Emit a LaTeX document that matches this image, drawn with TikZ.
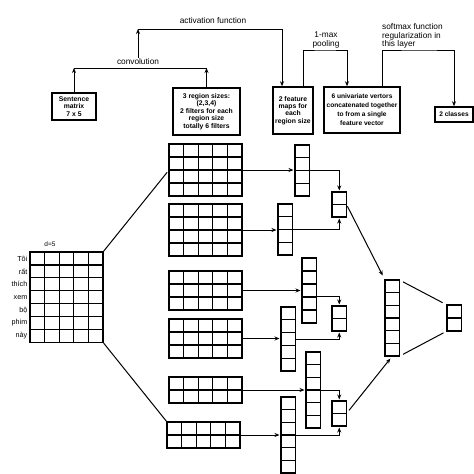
\documentclass[tikz,border=0pt]{standalone}
\usepackage{fontspec}
\setmainfont{Liberation Sans}
\usetikzlibrary{arrows.meta, calc, positioning}
\tikzset{
  hbox/.style={
    rectangle, draw, line width=1.5pt,
    font=\fontsize{6.8}{7.4}\selectfont\bfseries, align=center,
    inner sep=1pt,
  },
  lbl/.style={font=\fontsize{8.3}{9.5}\selectfont, inner sep=0pt},
  word/.style={font=\fontsize{7.2}{8}\selectfont, inner sep=0pt, anchor=east},
  cell/.style={draw, line width=1.35pt},
  grd/.style={draw, line width=1.5pt, inner sep=0pt, outer sep=0pt, anchor=north west},
  arr/.style={-{Stealth[length=5pt,width=4pt]}, line width=1pt, shorten >=1.5pt},
  ln/.style={line width=1pt},
}
% #1 name, #2 top left, #3 cols, #4 rows, #5 cell width, #6 cell height
\newcommand{\cellgrid}[6]{%
  \node[grd, minimum width={#3*#5pt}, minimum height={#4*#6pt}] (#1) at (#2) {};
  \foreach \c in {1,...,#3}{\foreach \r in {1,...,#4}{
    \draw[cell] ($(#1.north west)+({(\c-1)*#5},{(\r-1)*#6})$) rectangle ++(#5,#6);}}
}

\begin{document}
\begin{tikzpicture}[x=1pt,y=-1pt]
  \useasboundingbox (0,0) rectangle (474,474);

  % header
  \node[hbox, minimum width=44, minimum height=27] (sm) at (74,106.5) {Sentence\\matrix\\7 x 5};
  \node[hbox, minimum width=67, minimum height=47] (fb) at (206.5,111.5) {3 region sizes:\\(2,3,4)\\2 filters for each\\region size\\totally 6 filters};
  \node[hbox, minimum width=40, minimum height=47] (fm) at (293,110.5) {2 feature\\maps for\\each\\region size};
  \node[hbox, minimum width=76, minimum height=46, font=\fontsize{6.6}{9}\selectfont\bfseries] (uv) at (362,110) {6 univariate vertors\\concatenated together\\to from a single\\feature vector};
  \node[hbox, minimum width=38, minimum height=15, font=\fontsize{6.6}{7}\selectfont\bfseries] (cls) at (454,114.5) {2 classes};

  \coordinate (cv) at (138,68);
  \coordinate (av) at (138,29);
  \coordinate (pv) at (325,50);
  \coordinate (sv) at (420,50);
  \node[lbl] (conv) at (138,62) {convolution};
  \node[lbl] (act) at (213,21) {activation function};
  \node[lbl, align=center] (pool) at (326,40) {1-max\\pooling};
  \node[lbl, align=left, anchor=west, font=\fontsize{8.3}{8.6}\selectfont] (soft) at (382,36) {softmax function\\regularization in\\this layer};

  \draw[arr, shorten >=0pt] (sm.north) -- (sm.north |- cv);
  \draw[arr, shorten >=0pt] (fb.north) -- (fb.north |- cv);
  \draw[ln] (sm.north |- cv) -- (fb.north |- cv);
  \draw[arr, shorten >=0pt] ([yshift=1pt]conv.north) -- (av);
  \draw[arr, shorten >=0pt] (av) -| ([xshift=-11pt]fm.north);
  \draw[arr, shorten >=0pt] ([xshift=10pt]fm.north) |- (pv) -| ([xshift=-15pt]uv.north);
  \draw[arr, shorten >=0pt] ([xshift=20pt]uv.north) |- (sv) -| (cls.north);

  % sentence matrix
  \cellgrid{S}{30,252}{5}{7}{14.6}{12.9}
  \node[word, anchor=center, font=\fontsize{6.5}{7}\selectfont] (d) at ($(S.north west)+(20,-8)$) {d=5};
  \foreach \w [count=\i] in {Tôi, rất, thích, xem, bộ, phim, này}
    \node[word] (w\i) at ($(S.north west)+(-2.5,{12.9*(\i-0.5)})$) {\w};

  % filters
  \cellgrid{F1}{169,144}{5}{4}{14.6}{13}
  \cellgrid{F2}{169,204}{5}{4}{14.6}{13}
  \cellgrid{F3}{169,271}{5}{3}{14.6}{13}
  \cellgrid{F4}{169,319}{5}{3}{14.6}{13}
  \cellgrid{F5}{169,377}{5}{2}{14.6}{13}
  \cellgrid{F6}{167,422}{5}{2}{14.6}{13}

  % feature maps
  \cellgrid{M1}{295,145}{1}{4}{14.5}{12.75}
  \cellgrid{M2}{278,204}{1}{4}{14.5}{12.75}
  \cellgrid{M3}{302,258}{1}{5}{14.5}{13}
  \cellgrid{M4}{281,307}{1}{5}{14.5}{12.8}
  \cellgrid{M5}{306,352}{1}{6}{14.5}{12.7}
  \cellgrid{M6}{281,397}{1}{6}{14.5}{12.7}

  % pooled, joined, output
  \cellgrid{P1}{332,192}{1}{2}{14.5}{12.5}
  \cellgrid{P2}{332,306}{1}{2}{14.5}{12.5}
  \cellgrid{P3}{332,401}{1}{2}{14.5}{12.5}
  \cellgrid{C}{385,280}{1}{6}{14.5}{12.7}
  \cellgrid{O}{447,305}{1}{2}{14.5}{13}

  \draw[ln, shorten <=1pt, shorten >=3pt] (S.north east) -- (F1.west);
  \draw[ln, shorten <=1pt, shorten >=1pt] (S.south east) -- (F6.north west);
  \foreach \i in {1,...,6}
    \draw[arr] (F\i.east) -- (F\i.east -| M\i.west);

  \draw[arr] (M1.east) -| (P1.north);
  \draw[arr] (M2.east) -| (P1.south);
  \draw[arr] ([yshift=-5.5pt]M3.east) -| (P2.north);
  \draw[arr] (M4.east) -| (P2.south);
  \draw[arr] (M5.east) -| (P3.north);
  \draw[arr] (M6.east) -| (P3.south);

  \draw[arr, shorten <=2pt, shorten >=5pt] (P1.east) -- (C.north west);
  \draw[arr, shorten <=4pt, shorten >=3pt] (P3.east) -- (C.south);
  \draw[ln, shorten <=4pt, shorten >=5pt] (C.north east) -- (O.north west);
  \draw[ln, shorten <=4pt, shorten >=4pt] (C.south east) -- (O.south west);
\end{tikzpicture}
\end{document}
